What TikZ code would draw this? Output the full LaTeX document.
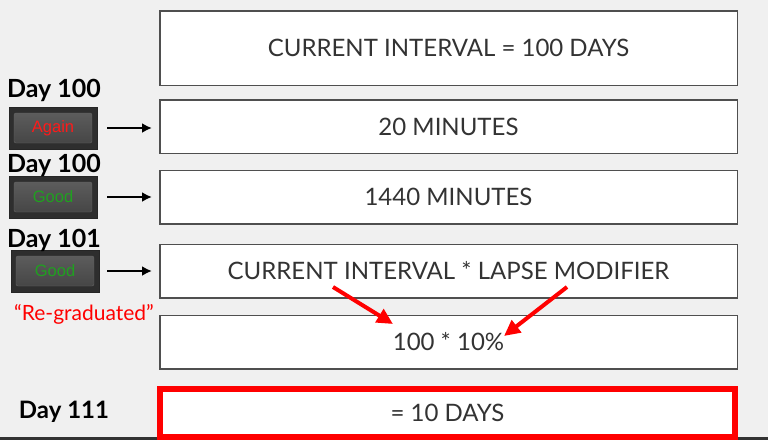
\documentclass[tikz,border=0pt]{standalone}
\usepackage{fontspec}
\setmainfont{Lato}
\newfontfamily\btnfont{Liberation Sans}
\usetikzlibrary{positioning,arrows.meta}

\definecolor{bggray}{HTML}{F0F0F0}
\definecolor{boxline}{HTML}{4F4F4F}
\definecolor{boxtext}{HTML}{333333}
\definecolor{btnouter}{HTML}{2E2E2E}
\definecolor{btntop}{HTML}{5C5C5C}
\definecolor{btnbottom}{HTML}{464646}
\definecolor{againred}{HTML}{FF1A1A}
\definecolor{goodgreen}{HTML}{20A020}
\definecolor{lapsered}{HTML}{FF0000}

\tikzset{
    stepbox/.style={draw=boxline, line width=1.5pt, fill=white, text=boxtext,
        minimum width=577.5pt, minimum height=53.5pt, inner sep=0,
        font=\fontsize{24}{28}\selectfont},
    btnframe/.style={draw=black!85, line width=0.8pt, fill=btnouter,
        minimum width=88pt, minimum height=42pt, inner sep=0},
    btnface/.style={rounded corners=2pt, top color=btntop, bottom color=btnbottom,
        draw=black!60, line width=0.4pt, minimum width=78pt, minimum height=30pt,
        inner sep=0, font=\btnfont\fontsize{16.5}{19}\selectfont},
    daylabel/.style={font=\bfseries\fontsize{25}{29}\selectfont, inner sep=0, anchor=base},
    pressarrow/.style={draw=black, line width=2.6pt, -{Latex[length=10pt,width=10pt]}},
    lapsearrow/.style={draw=lapsered, line width=4pt, -{Triangle[length=16pt,width=15pt]}}
}

\begin{document}
\begin{tikzpicture}[x=1pt, y=-1pt]
        \fill[bggray] (0,0) rectangle (768,440);
        \useasboundingbox (0,0) rectangle (768,440);
        \fill[boxtext] (0,437) rectangle (768,440);

        % interval steps
        \node[stepbox, minimum height=74.5pt] (intervalbox) at (448.5,48) {CURRENT INTERVAL = 100 DAYS};
        \node[stepbox] (twentybox) at (448.5,126.5) {20 MINUTES};
        \node[stepbox] (fourteenbox) at (448.5,197) {1440 MINUTES};
        \node[stepbox] (lapsebox) at (448.5,271) {CURRENT INTERVAL * LAPSE MODIFIER};
        \node[stepbox] (productbox) at (448.5,342) {100 * 10\%};
        \node[stepbox, draw=lapsered, line width=6pt, minimum width=575pt, minimum height=48pt] (resultbox) at (447.5,413) {= 10 DAYS};

        % buttons
        \node[btnframe] (againframe) at (53,128) {};
        \node[btnface, text=againred] (againbtn) at (againframe) {Again};
        \node[btnframe] (goodframe) at (53,197) {};
        \node[btnface, text=goodgreen] (goodbtn) at (goodframe) {Good};
        \node[btnframe] (regoodframe) at (55,271) {};
        \node[btnface, text=goodgreen] (regoodbtn) at (regoodframe) {Good};

        \node[daylabel] (dayagain) at (54,97) {Day 100};
        \node[daylabel] (daygood) at (54,172) {Day 100};
        \node[daylabel] (dayregood) at (54,247) {Day 101};
        \node[daylabel, font=\bfseries\fontsize{24}{28}\selectfont] (dayresult) at (64,418) {Day 111};
        \node[text=lapsered, font=\fontsize{21}{24}\selectfont] (regraduated) at (84,314) {``Re-graduated''};

        \draw[pressarrow, shorten <=10pt, shorten >=7pt] (againframe.east) -- (againframe.east -| twentybox.west);
        \draw[pressarrow, shorten <=10pt, shorten >=7pt] (goodframe.east) -- (goodframe.east -| fourteenbox.west);
        \draw[pressarrow, shorten <=8pt, shorten >=7pt] (regoodframe.east) -- (regoodframe.east -| lapsebox.west);

        % which word gives which factor
        \coordinate (intervalword) at (333,287);
        \coordinate (modifierword) at (567,287);
        \coordinate (hundredtip) at (393,324);
        \coordinate (percenttip) at (504,336);
        \draw[lapsearrow] (intervalword) -- (hundredtip);
        \draw[lapsearrow] (modifierword) -- (percenttip);
\end{tikzpicture}
\end{document}
